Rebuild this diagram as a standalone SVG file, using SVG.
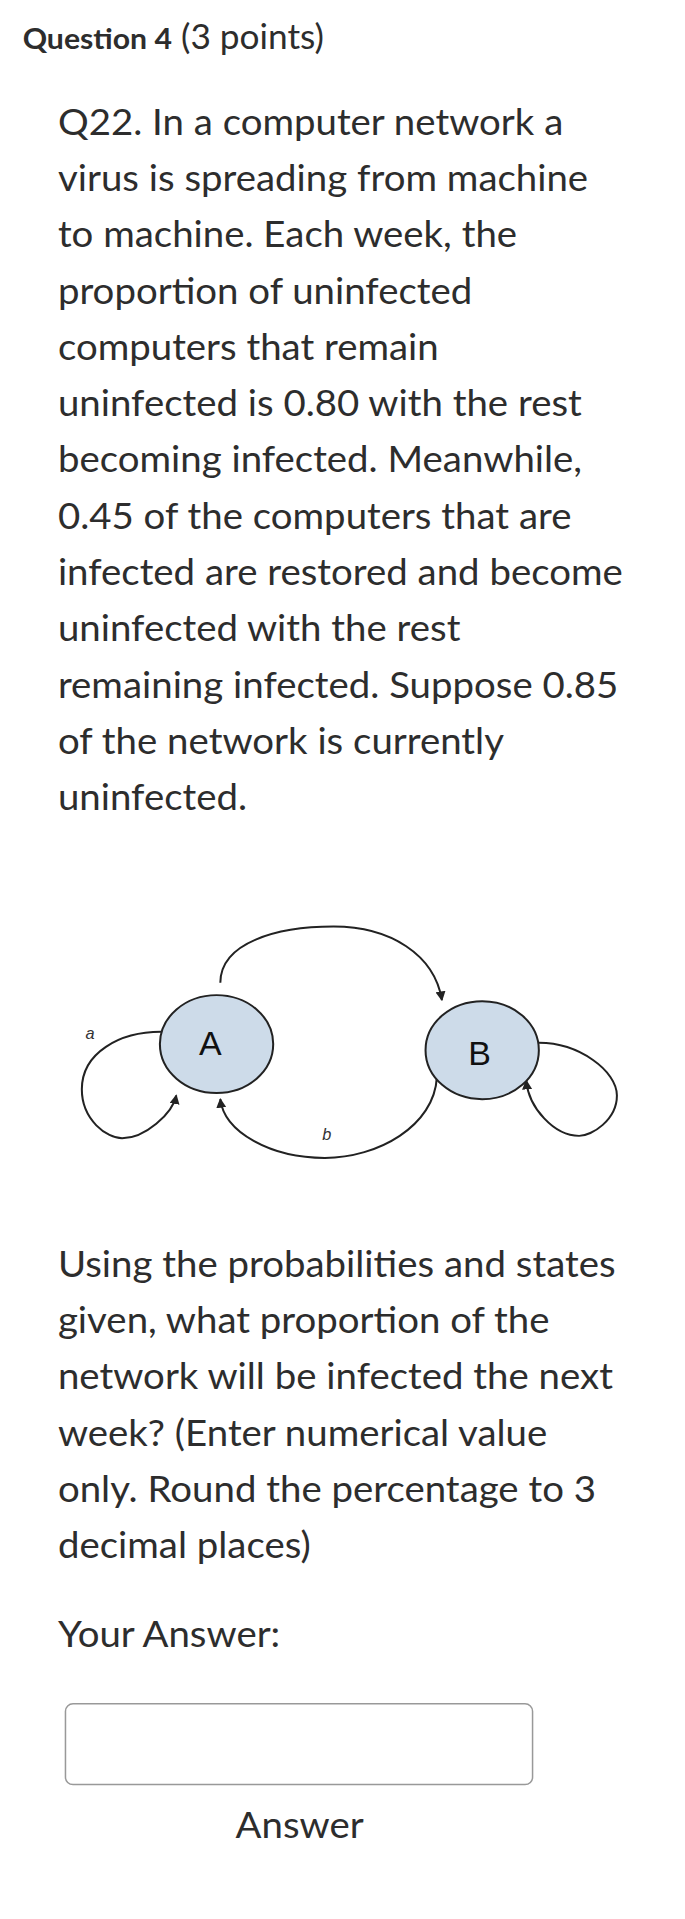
<svg xmlns="http://www.w3.org/2000/svg" width="685" height="1919" viewBox="0 0 685 1919">
<style>
.t{font-family:Lato,"Liberation Sans",sans-serif;font-size:30.5px;fill:#2d2d2d}
.n{fill:#cddbe9;stroke:#222;stroke-width:1.6}
.c{fill:none;stroke:#222;stroke-width:1.6}
.nl{font-family:"Liberation Sans",sans-serif;font-size:27px;fill:#111;text-anchor:middle}
.lb{font-family:"Liberation Sans",sans-serif;font-size:13px;font-style:italic;fill:#333}
</style>
<defs><marker id="ar" markerWidth="8" markerHeight="8" refX="7" refY="4" orient="auto" markerUnits="userSpaceOnUse"><path d="M0,0 L8,4 L0,8 z" fill="#222"/></marker></defs>
<rect width="685" height="1919" fill="#fff"/>
<g transform="scale(1.259,1.224)">
<text x="18" y="40" class="t" style="font-size:28px"><tspan font-weight="bold" style="font-size:24px">Question 4</tspan> (3 points)</text>
<g class="t">
<text x="46" y="110">Q22. In a computer network a</text>
<text x="46" y="156">virus is spreading from machine</text>
<text x="46" y="202">to machine. Each week, the</text>
<text x="46" y="248">proportion of uninfected</text>
<text x="46" y="294">computers that remain</text>
<text x="46" y="340">uninfected is 0.80 with the rest</text>
<text x="46" y="386">becoming infected. Meanwhile,</text>
<text x="46" y="432">0.45 of the computers that are</text>
<text x="46" y="478">infected are restored and become</text>
<text x="46" y="524">uninfected with the rest</text>
<text x="46" y="570">remaining infected. Suppose 0.85</text>
<text x="46" y="616">of the network is currently</text>
<text x="46" y="662">uninfected.</text>
</g>
<g id="connectors">
<path class="c" d="M175,803 C175,770 220,757 265,757 C310,757 345,780 351,817" marker-end="url(#ar)"/>
<path class="c" d="M347,880 C345,920 300,946 258,946 C215,946 178,925 175,898" marker-end="url(#ar)"/>
<path class="c" d="M128,843 C95,843 65,860 65,890 C65,915 85,930 97,930 C115,930 137,910 140,895" marker-end="url(#ar)"/>
<path class="c" d="M428,852 C460,852 490,875 490,895 C490,915 470,928 460,928 C440,928 420,905 418,883" marker-end="url(#ar)"/>
<text x="68" y="849" class="lb">a</text>
<text x="256" y="931" class="lb">b</text>
</g>
<g id="A"><ellipse class="n" cx="172" cy="853" rx="45" ry="40"/><text x="167" y="862" class="nl">A</text></g>
<g id="B"><ellipse class="n" cx="383" cy="858" rx="45" ry="40"/><text x="381" y="870" class="nl">B</text></g>
<g class="t">
<text x="46" y="1043">Using the probabilities and states</text>
<text x="46" y="1089">given, what proportion of the</text>
<text x="46" y="1135">network will be infected the next</text>
<text x="46" y="1181">week? (Enter numerical value</text>
<text x="46" y="1227">only. Round the percentage to 3</text>
<text x="46" y="1273">decimal places)</text>
<text x="46" y="1346">Your Answer:</text>
<text x="238" y="1502" text-anchor="middle">Answer</text>
</g>
<rect x="52" y="1392" width="371" height="66" rx="6" fill="#fff" stroke="#999" stroke-width="1.2"/>
</g>
</svg>
